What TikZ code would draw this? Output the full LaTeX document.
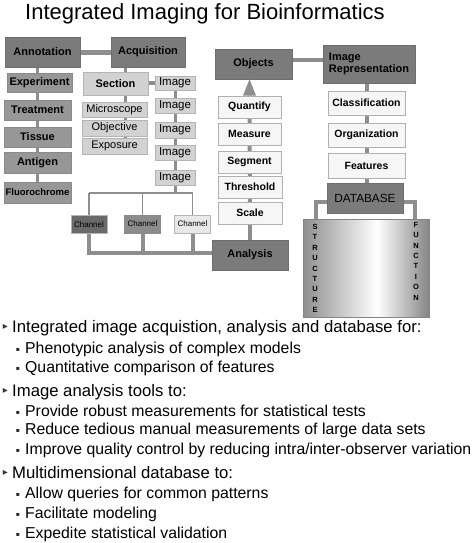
\documentclass[tikz,border=0pt]{standalone}
\usepackage{fontspec}
\setmainfont{Liberation Sans}
\newfontfamily\dejavu{DejaVu Sans}
\usetikzlibrary{backgrounds,calc}
\definecolor{dk}{HTML}{7B7B7B}
\definecolor{dkb}{HTML}{6E6E6E}
\definecolor{md}{HTML}{979797}
\definecolor{mdb}{HTML}{8A8A8A}
\definecolor{lt}{HTML}{D2D2D2}
\definecolor{ltb}{HTML}{B4B4B4}
\definecolor{wh}{HTML}{F6F6F6}
\definecolor{whb}{HTML}{B0B0B0}
\definecolor{ln}{HTML}{8E8E8E}
\definecolor{chA}{HTML}{6A6A6A}
\definecolor{chB}{HTML}{8C8C8C}
\definecolor{chC}{HTML}{E8E8E8}
\definecolor{cylL}{HTML}{8E8E8E}
\definecolor{cylR}{HTML}{858585}
\begin{document}
\begin{tikzpicture}[x=1pt,y=-1pt,
  box/.style={inner sep=0pt, text=black, font=\bfseries\fontsize{11}{12}\selectfont},
  dkbox/.style={box, fill=dk, draw=dkb, line width=0.6pt},
  mdbox/.style={box, fill=md, draw=mdb, line width=0.6pt},
  ltbox/.style={box, fill=lt, draw=ltb, line width=0.6pt, font=\fontsize{11}{12}\selectfont},
  whbox/.style={box, fill=wh, draw=whb, line width=0.8pt, font=\bfseries\fontsize{10.5}{12}\selectfont},
  chbox/.style={box, draw=ltb, line width=0.6pt, font=\fontsize{8}{9}\selectfont, minimum width=36, minimum height=18},
  conn/.style={draw=ln, line width=4pt},
  bigconn/.style={draw=ln, line width=5pt},
  colconn/.style={draw=ln, line width=3pt},
  tree/.style={draw=ln, line width=1.5pt},
  cyltxt/.style={inner sep=0pt, align=center, font=\bfseries\fontsize{7.5}{10.4}\selectfont},
  mainline/.style={anchor=base west, inner sep=0pt, font=\fontsize{16.7}{18}\selectfont},
  subline/.style={anchor=base west, inner sep=0pt, font=\fontsize{15.8}{18}\selectfont},
  mbul/.style={inner sep=0pt, text=black!80, font=\dejavu\fontsize{10}{10}\selectfont},
  sbul/.style={inner sep=0pt, text=black!85, font=\dejavu\fontsize{6}{6}\selectfont}
]
\useasboundingbox (0,0) rectangle (474,543);

% title
\node[anchor=base west, inner sep=0pt, font=\fontsize{22}{24}\selectfont] (title) at (25,20) {Integrated Imaging for Bioinformatics};

% left column
\node[dkbox, minimum width=75, minimum height=30] (ann) at (42.5,52) {Annotation};
\node[dkbox, minimum width=74, minimum height=30] (acq) at (148,52) {Acquisition};
\node[mdbox, minimum width=65, minimum height=19] (exp) at (39.5,82.5) {Experiment};
\node[mdbox, minimum width=67, minimum height=20] (trt) at (37.5,110) {Treatment};
\node[mdbox, minimum width=67, minimum height=20] (tis) at (37.5,137) {Tissue};
\node[mdbox, minimum width=67, minimum height=21] (ant) at (37.5,162.5) {Antigen};
\node[mdbox, minimum width=67, minimum height=21, font=\bfseries\fontsize{9.5}{11}\selectfont] (flu) at (37.5,192.5) {Fluorochrome};

% acquisition column
\node[ltbox, minimum width=65, minimum height=23, font=\bfseries\fontsize{11}{12}\selectfont] (sec) at (115.5,83.5) {Section};
\node[ltbox, minimum width=65, minimum height=15] (mic) at (114.5,109.5) {Microscope};
\node[ltbox, minimum width=65, minimum height=16] (obj) at (114.5,128) {Objective};
\node[ltbox, minimum width=65, minimum height=16] (exr) at (114.5,146) {Exposure};
\coordinate (acqcol) at (125,0);

\node[ltbox, minimum width=40, minimum height=14, font=\fontsize{11.5}{12}\selectfont] (im1) at (175,83) {Image};
\node[ltbox, minimum width=40, minimum height=15, font=\fontsize{11.5}{12}\selectfont] (im2) at (175,105.5) {Image};
\node[ltbox, minimum width=40, minimum height=16, font=\fontsize{11.5}{12}\selectfont] (im3) at (175,130) {Image};
\node[ltbox, minimum width=40, minimum height=15, font=\fontsize{11.5}{12}\selectfont] (im4) at (175,152.5) {Image};
\node[ltbox, minimum width=40, minimum height=15, font=\fontsize{11.5}{12}\selectfont] (im5) at (175,177.5) {Image};
\coordinate (bus) at (175,193);

\node[chbox, fill=chA] (ch1) at (89,224.5) {Channel};
\node[chbox, fill=chB, draw=mdb] (ch2) at (142.5,224) {Channel};
\node[chbox, fill=chC] (ch3) at (192.5,224) {Channel};

% analysis column
\node[dkbox, minimum width=76, minimum height=30] (ana) at (250,255) {Analysis};
\node[dkbox, minimum width=77, minimum height=30] (objs) at (253.5,64) {Objects};
\node[whbox, minimum width=63, minimum height=22] (qua) at (249.5,107) {Quantify};
\node[whbox, minimum width=63, minimum height=22] (mea) at (249.5,134) {Measure};
\node[whbox, minimum width=63, minimum height=22] (seg) at (249.5,162) {Segment};
\node[whbox, minimum width=64, minimum height=22] (thr) at (250,187) {Threshold};
\node[whbox, minimum width=64, minimum height=22] (sca) at (250,213) {Scale};

% representation column
\node[dkbox, minimum width=92, minimum height=38, align=left] (irep) at (369,64) {Image\\Representation};
\node[whbox, minimum width=77, minimum height=24] (cla) at (366.5,103) {Classification};
\node[whbox, minimum width=77, minimum height=24] (org) at (366.5,135) {Organization};
\node[whbox, minimum width=77, minimum height=25] (fea) at (366.5,165.5) {Features};
\node[dkbox, minimum width=76, minimum height=30, font=\fontsize{11.8}{13}\selectfont] (db) at (365,198) {DATABASE};
\node[anchor=north west, minimum width=126, minimum height=98, inner sep=0pt] (cyl) at (303,219) {};
% horizontal gradient as vertical strips: grey - white (at 59%) - grey
\foreach \i in {0,...,125} {
  \pgfmathsetmacro{\t}{\i/126}
  \pgfmathsetmacro{\p}{\t<0.59 ? 100*(1-\t/0.59) : 100*(\t-0.59)/0.41}
  \pgfmathsetmacro{\q}{\t<0.59 ? 1 : 0}
  \ifdim\q pt>0.5pt
    \fill[cylL!\p!white] ($(cyl.north west)+(\i,0)$) rectangle ($(cyl.south west)+(\i+1.3,0)$);
  \else
    \fill[cylR!\p!white] ($(cyl.north west)+(\i,0)$) rectangle ($(cyl.south west)+(\i+1.3,0)$);
  \fi
}
\draw[draw=cylR, line width=0.6pt] (cyl.north west) rectangle (cyl.south east);
\node[cyltxt, anchor=north] (struct) at (315,224) {S\\T\\R\\U\\C\\T\\U\\R\\E};
\node[cyltxt, anchor=north] (func) at (416,222) {F\\U\\N\\C\\T\\I\\O\\N};

% connectors
\begin{scope}[on background layer]
\draw[bigconn] ([yshift=-1pt]ann.east) -- ([yshift=-1pt]ann.east -| acq.west);
\draw[colconn] (ann.south -| tis) -- (flu.north -| tis);
\draw[colconn] (acq.south -| acqcol) -- (exr.north -| acqcol);
\draw[conn] (sec.east |- im1) -- (im1.west);
\draw[colconn] (im1) -- (bus);
\draw[tree] (ch1.north |- bus) -- (ch3.north |- bus);
\draw[tree] (ch1.north |- bus) -- (ch1.north);
\draw[tree] (ch2.north |- bus) -- (ch2.north);
\draw[tree] (ch3.north |- bus) -- (ch3.north);
\draw[conn] (ch1.south) -- ([yshift=2pt]ch1.south |- ana.west);
\draw[conn] (ch2.south) -- ([yshift=2pt]ch2.south |- ana.west);
\draw[conn] (ch3.south) -- ([yshift=2pt]ch3.south |- ana.west);
\draw[conn] ([xshift=-2pt,yshift=2pt]ch1.south |- ana.west) -- ([yshift=2pt]ana.west);
\draw[conn] ([yshift=4pt]objs.east) -- ([yshift=4pt]objs.east -| irep.west);
\draw[conn] (qua.north) -- (sca.south);
\draw[conn] (sca.south) -- (sca.south |- ana.north);
\draw[conn] (irep.south -| fea) -- (db.north -| fea);
\draw[conn] ([yshift=-4pt]db.west) -| ([xshift=13pt]cyl.north west);
\draw[conn] ([yshift=-4pt]db.east) -| ([xshift=-14pt]cyl.north east);
\end{scope}
\fill[ln] ([xshift=-6.5pt]qua.north) -- ([xshift=6.5pt]qua.north) -- (qua.north |- objs.south) -- cycle;

% bullet text
\node[mainline] (m1) at (12,332) {Integrated image acquistion, analysis and database for:};
\node[subline] (s1) at (25,353) {Phenotypic analysis of complex models};
\node[subline] (s2) at (25,372) {Quantitative comparison of features};
\node[mainline] (m2) at (12,396) {Image analysis tools to:};
\node[subline] (s3) at (25,416) {Provide robust measurements for statistical tests};
\node[subline] (s4) at (25,434) {Reduce tedious manual measurements of large data sets};
\node[subline] (s5) at (25,454) {Improve quality control by reducing intra/inter-observer variation};
\node[mainline] (m3) at (12,478) {Multidimensional database to:};
\node[subline] (s6) at (25,498) {Allow queries for common patterns};
\node[subline] (s7) at (25,518) {Facilitate modeling};
\node[subline] (s8) at (25,538) {Expedite statistical validation};

\foreach \m in {m1,m2,m3} \node[mbul] at ([xshift=-6.5pt,yshift=5.5pt]\m.base west) {▸};
\foreach \s in {s1,s2,s3,s4,s5,s6,s7,s8} \node[sbul] at ([xshift=-7pt,yshift=3pt]\s.base west) {▪};
\end{tikzpicture}
\end{document}
